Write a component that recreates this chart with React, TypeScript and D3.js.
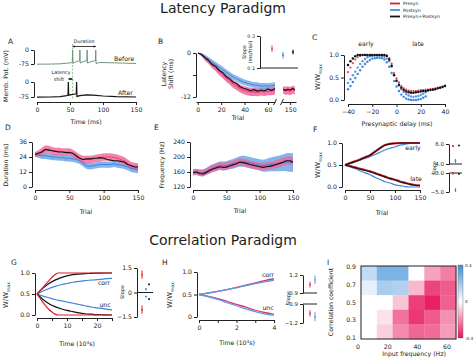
import React, { useEffect, useRef } from 'react';
import * as d3 from 'd3';

const FONT = "'DejaVu Sans', Verdana, sans-serif";
const RED = '#e8316b';
const RED_BAND = '#f2639a';
const BLUE = '#3d86d8';
const BLUE_BAND = '#6fa8e6';
const BLACK = '#141414';
const INK = '#222';

// ---- A: example traces (time ms, mV)
const aBefore: [number, number][] = [
  [0, -76], [20, -75.5], [35, -74], [45, -71], [52, -68], [53.5, -66], [54, 0], [54.5, -72],
  [57, -66], [62, -60], [64.5, -58], [65, 0], [65.5, -70], [70, -62], [75.5, -58], [76, 0],
  [76.5, -70], [82, -62], [88.5, -57], [89, 0], [89.5, -72], [95, -67], [110, -68], [130, -70], [150, -72],
];
const aAfter: [number, number][] = [
  [0, -76], [20, -75], [35, -73], [45, -68], [47, -65], [47.5, 0], [48, -66], [52, -63],
  [58, -60], [59.5, -58], [60, 0], [60.5, -72], [65, -68], [75, -64], [85, -66], [100, -70], [120, -73], [150, -75],
];

// ---- B: latency shift
const bTrial = [0, 3, 6, 9, 12, 15, 18, 21, 24, 27, 30, 33, 36, 39, 42, 45, 48, 51, 54, 57, 60, 63, 66];
const bBlack = [0, -0.4, -1.3, -2.0, -3.1, -3.6, -4.7, -5.3, -6.4, -7.0, -7.9, -8.3, -9.2, -9.6, -9.9, -10.3, -10.0, -10.4, -10.1, -10.3, -9.8, -10.2, -9.7];
const bPink = [0, -0.5, -1.5, -2.3, -3.3, -4.0, -5.0, -5.8, -6.8, -7.5, -8.4, -9.0, -9.7, -10.1, -10.4, -10.6, -10.6, -10.7, -10.5, -10.6, -10.4, -10.4, -10.2];
const bPinkSd = [0.1, 0.4, 0.6, 0.7, 0.8, 0.9, 1.0, 1.0, 1.0, 1.1, 1.1, 1.1, 1.1, 1.1, 1.1, 1.1, 1.1, 1.1, 1.1, 1.1, 1.1, 1.1, 1.1];
const bBlue = [0, -0.3, -1.0, -1.7, -2.5, -3.1, -3.9, -4.5, -5.2, -5.9, -6.5, -7.0, -7.5, -7.9, -8.2, -8.5, -8.7, -8.8, -9.0, -9.0, -9.0, -8.9, -8.8];
const bBlueSd = [0.1, 0.3, 0.5, 0.6, 0.7, 0.7, 0.8, 0.8, 0.8, 0.8, 0.8, 0.8, 0.8, 0.8, 0.8, 0.8, 0.8, 0.8, 0.8, 0.8, 0.8, 0.8, 0.8];
const bTrialLate = [144, 146, 148, 150, 152, 154];
const bBlackLate = [-9.8, -10.2, -9.9, -10.1, -9.7, -10.0];
const bPinkLate = [-10.1, -10.3, -10.2, -10.4, -10.0, -10.2];
const bPinkLateSd = [1.1, 1.1, 1.1, 1.1, 1.1, 1.1];
const bSlope = [0.22, 0.18, 0.2];
const bSlopeErr = [0.02, 0.02, 0.015];

// ---- C: STDP window (delay ms -> W/Wmax)
const cDelay = d3.range(-40, 41, 2);
const cBlack = [0.78, 0.86, 0.92, 0.97, 1, 1, 1, 1, 1, 1, 1, 1, 1, 1, 1, 1, 0.98, 0.9, 0.76, 0.55, 0.43, 0.34, 0.27, 0.22, 0.19, 0.17, 0.16, 0.16, 0.17, 0.18, 0.19, 0.2, 0.2, 0.21, 0.22, 0.23, 0.24, 0.26, 0.27, 0.29, 0.31];
const cRed = [0.62, 0.72, 0.82, 0.9, 0.95, 0.98, 1, 1, 1, 1, 1, 1, 1, 1, 1, 1, 0.99, 0.93, 0.81, 0.6, 0.48, 0.39, 0.31, 0.26, 0.23, 0.21, 0.2, 0.2, 0.2, 0.21, 0.22, 0.22, 0.23, 0.23, 0.24, 0.25, 0.26, 0.27, 0.28, 0.3, 0.32];
const cBlueHi = [0.38, 0.46, 0.55, 0.63, 0.72, 0.8, 0.86, 0.91, 0.95, 0.97, 0.98, 0.99, 0.99, 0.99, 0.98, 0.96, 0.92, 0.86, 0.74, 0.56, 0.42, 0.32, 0.24, 0.18, 0.13, 0.1, 0.08, 0.07, 0.08, 0.09, 0.11, 0.14, 0.17];
const cBlueLo = [0.24, 0.31, 0.4, 0.49, 0.58, 0.66, 0.74, 0.8, 0.85, 0.89, 0.92, 0.93, 0.94, 0.94, 0.93, 0.9, 0.84, 0.74, 0.6, 0.42, 0.3, 0.2, 0.12, 0.07, 0.03, 0.01, 0, 0, 0, 0.01, 0.02, 0.05, 0.08];

// ---- D / E: burst duration and frequency
const deTrial = d3.range(0, 151, 5);
const dBlack = [26, 27, 28, 30, 29.5, 29, 28.5, 28, 28, 27.5, 27.5, 27, 25, 23, 22, 22.5, 22.5, 23, 23, 23.5, 23, 22, 21.5, 21, 21, 20.5, 20, 18, 17, 16, 16];
const dPink = [26, 27, 28.5, 30.5, 30, 29, 28.5, 28.5, 28, 28, 28, 27, 25, 23, 22, 22, 22, 22.5, 23, 23.5, 24, 24, 24, 23.5, 23, 22, 21, 19, 17, 16.5, 16];
const dPinkSd = [2, 2.5, 3, 3, 3, 3, 3, 3, 3, 3, 3, 3, 3, 3, 3, 3, 3, 3, 3, 3, 3, 3, 3, 3, 3, 3, 3, 3, 3, 3, 3];
const dBlue = [26, 25.5, 25, 25, 24.5, 24, 24, 23.5, 23.5, 23, 23, 22.5, 22, 21, 19, 17, 16.5, 17, 17.5, 18, 18, 18, 18, 18.5, 18, 17.5, 17, 16, 15, 14.5, 14];
const dBlueSd = [2, 2, 2.5, 2.5, 2.5, 2.5, 2.5, 2.5, 2.5, 2.5, 2.5, 2.5, 2.5, 2.5, 2.5, 2.5, 2.5, 2.5, 2.5, 2.5, 2.5, 2.5, 2.5, 2.5, 2.5, 2.5, 2.5, 2.5, 3, 3, 3];
const eBlack = [158, 160, 156, 155, 159, 164, 168, 171, 174, 172, 173, 176, 179, 182, 186, 185, 183, 180, 178, 176, 174, 172, 174, 175, 177, 180, 183, 186, 190, 190, 186];
const ePink = [160, 161, 158, 157, 161, 166, 170, 173, 176, 175, 176, 178, 181, 184, 187, 186, 184, 181, 179, 177, 175, 174, 176, 177, 179, 181, 184, 187, 190, 191, 188];
const ePinkSd = [8, 8, 9, 9, 9, 10, 10, 10, 10, 10, 10, 10, 10, 10, 10, 10, 10, 10, 10, 10, 10, 10, 10, 10, 10, 11, 11, 11, 11, 11, 11];
const eBlue = [158, 160, 158, 158, 162, 167, 171, 174, 177, 176, 177, 180, 182, 185, 188, 189, 187, 185, 183, 181, 179, 177, 178, 180, 181, 182, 183, 185, 186, 186, 185];
const eBlueSd = [7, 8, 8, 9, 9, 10, 10, 11, 11, 12, 12, 12, 13, 13, 14, 15, 15, 15, 15, 15, 15, 16, 17, 18, 19, 20, 21, 22, 24, 25, 25];

// ---- F: weight evolution, early / late
const fTrial = d3.range(0, 151, 10);
const fEarlyBlack = [0.5, 0.54, 0.58, 0.62, 0.67, 0.72, 0.8, 0.88, 0.95, 0.98, 0.99, 1, 1, 1, 1, 1];
const fEarlyRed = [0.5, 0.545, 0.585, 0.625, 0.675, 0.725, 0.805, 0.885, 0.952, 0.982, 0.992, 1, 1, 1, 1, 1];
const fEarlyBlue = [0.5, 0.53, 0.57, 0.61, 0.65, 0.69, 0.74, 0.79, 0.84, 0.88, 0.91, 0.95, 0.97, 0.99, 1, 1];
const fLateBlack = [0.5, 0.47, 0.44, 0.41, 0.38, 0.35, 0.31, 0.27, 0.23, 0.19, 0.16, 0.12, 0.09, 0.06, 0.04, 0.03];
const fLateRed = [0.5, 0.475, 0.445, 0.415, 0.385, 0.355, 0.315, 0.275, 0.235, 0.195, 0.165, 0.125, 0.095, 0.065, 0.045, 0.035];
const fLateBlue = [0.5, 0.46, 0.42, 0.37, 0.32, 0.28, 0.22, 0.17, 0.12, 0.09, 0.05, 0.03, 0.01, 0, 0, 0];
const fSlopeEarly = [5.8, 4.3, 5.85];
const fSlopeLate = [-3.05, -4.8, -3.1];
const fSlopeErr = [0.1, 0.2, 0.05];

// ---- G / H: correlation paradigm
const gTimeRed = [0, 1, 2, 3, 4, 5, 6, 7, 10, 15, 20, 25];
const gRedCorr = [0.5, 0.58, 0.66, 0.74, 0.82, 0.9, 0.96, 1, 1, 1, 1, 1];
const gRedUnc = [0.5, 0.4, 0.3, 0.21, 0.13, 0.07, 0.02, 0, 0, 0, 0, 0];
const gTime = [0, 2, 4, 6, 8, 10, 12, 14, 16, 18, 20, 22, 25];
const gBlackCorr = [0.5, 0.64, 0.75, 0.83, 0.89, 0.93, 0.96, 0.975, 0.985, 0.99, 0.995, 1, 1];
const gBlackUnc = [0.5, 0.37, 0.27, 0.2, 0.15, 0.11, 0.08, 0.05, 0.03, 0.02, 0.01, 0.005, 0];
const gBlueCorr = [0.5, 0.57, 0.63, 0.68, 0.72, 0.75, 0.78, 0.8, 0.82, 0.83, 0.84, 0.855, 0.87];
const gBlueUnc = [0.5, 0.45, 0.41, 0.37, 0.34, 0.31, 0.28, 0.25, 0.22, 0.19, 0.17, 0.15, 0.12];
const gSlopeCorr = [1.1, 0.2, 0.5];
const gSlopeUnc = [-1.05, -0.25, -0.4];
const gSlopeErr = [0.25, 0.05, 0.05];

const hTime = [0, 0.5, 1, 1.5, 2, 2.5, 3, 3.5, 4];
const hPinkCorr = [0.5, 0.53, 0.57, 0.61, 0.66, 0.71, 0.76, 0.81, 0.85];
const hBlueCorr = [0.5, 0.535, 0.57, 0.61, 0.65, 0.7, 0.74, 0.78, 0.82];
const hPinkUnc = [0.5, 0.46, 0.41, 0.35, 0.28, 0.22, 0.15, 0.1, 0.06];
const hBlueUnc = [0.5, 0.45, 0.39, 0.32, 0.25, 0.18, 0.12, 0.07, 0.04];
const hSlopeCorr = [1.04, 1.12];
const hSlopeUnc = [-1.05, -1.1];
const hSlopeErr = [0.05, 0.07];

// ---- I: heat map (rows = correlation, cols = input frequency)
const iFreq = [10, 20, 30, 40, 50, 60];
const iCorr = [0.9, 0.7, 0.5, 0.3, 0.1];
const iDelta = [
  [0.13, 0.27, 0.27, 0.0, -0.16, -0.22],
  [0.05, 0.18, 0.16, -0.12, -0.32, -0.28],
  [0.0, 0.0, -0.1, -0.33, -0.38, -0.27],
  [0.0, -0.05, -0.24, -0.34, -0.28, -0.19],
  [0.0, -0.08, -0.2, -0.26, -0.25, -0.17],
];

type Sel = d3.Selection<SVGGElement, unknown, null, undefined>;

export default function App() {
  const ref = useRef<SVGSVGElement>(null);

  useEffect(() => {
    const root = d3.select(ref.current);
    root.selectAll('*').remove();
    const svg = root.append('g') as unknown as Sel;

    const text = (x: number, y: number, s: string, size = 6.2, anchor = 'middle', rot = false, fill = INK) => {
      return svg.append('text')
        .attr('transform', rot ? `translate(${x},${y}) rotate(-90)` : `translate(${x},${y})`)
        .attr('text-anchor', anchor)
        .attr('font-family', FONT)
        .attr('font-size', size)
        .attr('fill', fill)
        .text(s);
    };
    const wLabel = (x: number, y: number) => {
      const t = svg.append('text')
        .attr('transform', `translate(${x},${y}) rotate(-90)`)
        .attr('text-anchor', 'middle').attr('font-family', FONT)
        .attr('font-size', 6.8).attr('fill', INK);
      t.append('tspan').text('W/W');
      t.append('tspan').attr('font-size', 4.6).attr('dy', 1.6).text('max');
    };
    const timeLabel = (x: number, y: number) => {
      const t = svg.append('text').attr('x', x).attr('y', y).attr('text-anchor', 'middle')
        .attr('font-family', FONT).attr('font-size', 6.2).attr('fill', INK);
      t.append('tspan').text('Time (10');
      t.append('tspan').attr('font-size', 4.2).attr('dy', -2.5).text('3');
      t.append('tspan').attr('dy', 2.5).text('s)');
    };
    const style = (g: Sel) => {
      g.selectAll('path').attr('stroke', INK).attr('stroke-width', 1);
      g.selectAll('line').attr('stroke', INK).attr('stroke-width', 1);
      g.selectAll('text').attr('font-family', FONT).attr('font-size', 6.2).attr('fill', INK);
    };
    const xAxis = (scale: d3.ScaleLinear<number, number>, y: number, ticks: number[], fmt?: (d: number) => string) => {
      const a = d3.axisBottom(scale).tickValues(ticks).tickSize(3).tickSizeOuter(0).tickPadding(3);
      if (fmt) a.tickFormat(fmt as any);
      const g = svg.append('g').attr('transform', `translate(0,${y})`).call(a as any) as unknown as Sel;
      style(g);
      return g;
    };
    const yAxis = (scale: d3.ScaleLinear<number, number>, x: number, ticks: number[], fmt?: (d: number) => string, size = 6.2) => {
      const a = d3.axisLeft(scale).tickValues(ticks).tickSize(3).tickSizeOuter(0).tickPadding(2);
      if (fmt) a.tickFormat(fmt as any);
      const g = svg.append('g').attr('transform', `translate(${x},0)`).call(a as any) as unknown as Sel;
      style(g);
      g.selectAll('text').attr('font-size', size);
      return g;
    };
    const line = (xs: number[], ys: number[], x: any, y: any, color: string, w = 1.2, curve: any = d3.curveLinear) => {
      const gen = d3.line<number>().x((_, i) => x(xs[i])).y((d) => y(d)).curve(curve);
      svg.append('path').attr('d', gen(ys)).attr('fill', 'none').attr('stroke', color)
        .attr('stroke-width', w).attr('stroke-linejoin', 'round');
    };
    const band = (xs: number[], m: number[], sd: number[], x: any, y: any, color: string, op = 0.8) => {
      const gen = d3.area<number>().x((_, i) => x(xs[i]))
        .y0((d, i) => y(d - sd[i])).y1((d, i) => y(d + sd[i]));
      svg.append('path').attr('d', gen(m)).attr('fill', color).attr('opacity', op);
    };
    const dots = (xs: number[], ys: number[], x: any, y: any, color: string, r = 1.2) => {
      ys.forEach((v, i) => {
        svg.append('circle').attr('cx', x(xs[i])).attr('cy', y(v)).attr('r', r).attr('fill', color);
      });
    };
    const errDots = (xs: number[], vals: number[], errs: number[], colors: string[], y: any) => {
      vals.forEach((v, i) => {
        svg.append('line').attr('x1', xs[i]).attr('x2', xs[i]).attr('y1', y(v - errs[i])).attr('y2', y(v + errs[i]))
          .attr('stroke', colors[i]).attr('stroke-width', 1);
        svg.append('circle').attr('cx', xs[i]).attr('cy', y(v)).attr('r', 0.9).attr('fill', colors[i]);
      });
    };
    const hline = (x1: number, x2: number, y: number) => {
      svg.append('line').attr('x1', x1).attr('x2', x2).attr('y1', y).attr('y2', y).attr('stroke', INK).attr('stroke-width', 1);
    };

    // ---------------- titles, legend
    text(223, 13, 'Latency Paradigm', 14);
    text(223, 245, 'Correlation Paradigm', 14);
    const legend = [['Presyn', '#e0202a'], ['Postsyn', '#4a90d9'], ['Presyn+Postsyn', BLACK]];
    legend.forEach(([name, c], i) => {
      const y = 3.5 + i * 6.5;
      svg.append('line').attr('x1', 390).attr('x2', 400).attr('y1', y).attr('y2', y).attr('stroke', c).attr('stroke-width', 1.8);
      text(403, y + 1.7, name, 4.6, 'start');
    });

    // panel letters
    [['A', 8, 44], ['B', 158, 44], ['C', 312, 40], ['D', 5, 130], ['E', 154, 130], ['F', 313, 132],
      ['G', 11, 265], ['H', 162, 265], ['I', 327, 265]].forEach(([l, x, y]) => text(x as number, y as number, l as string, 7.5, 'start'));

    // ---------------- A
    {
      const x = d3.scaleLinear([0, 150], [37, 136]);
      const yB = d3.scaleLinear([-75, 0], [64, 50]);
      const yA = d3.scaleLinear([-75, 0], [97, 82]);
      svg.append('line').attr('x1', x(54)).attr('x2', x(54)).attr('y1', 44).attr('y2', 99)
        .attr('stroke', '#5cc06a').attr('stroke-width', 0.8).attr('stroke-dasharray', '2,1.5');
      const lg = d3.line<[number, number]>().x((d) => x(d[0]));
      svg.append('path').attr('d', lg.y((d) => yB(d[1]))(aBefore)).attr('fill', 'none').attr('stroke', '#6f9580').attr('stroke-width', 1);
      svg.append('path').attr('d', lg.y((d) => yA(d[1]))(aAfter)).attr('fill', 'none').attr('stroke', BLACK).attr('stroke-width', 1.2);
      yAxis(yB, 34, [-75, 0], (d) => `${d}`);
      yAxis(yA, 34, [-75, 0], (d) => `${d}`);
      xAxis(x, 102, [0, 50, 100, 150]);
      text(86, 124, 'Time (ms)');
      text(8, 76, 'Memb. Pot. (mV)', 6.2, 'middle', true);
      text(114, 61, 'Before', 6.2, 'start');
      text(118, 95, 'After', 6.2, 'start');
      const arrow = (x1: number, x2: number, y: number) => {
        svg.append('line').attr('x1', x1).attr('x2', x2).attr('y1', y).attr('y2', y).attr('stroke', BLACK).attr('stroke-width', 0.8);
        svg.append('path').attr('d', `M${x1},${y}l2,-1.3v2.6z M${x2},${y}l-2,-1.3v2.6z`).attr('fill', BLACK);
      };
      arrow(x(54), x(89), 46.5);
      text(x(71.5), 42.5, 'Duration', 4.8);
      arrow(x(47.5), x(54), 79);
      text(61, 74, 'Latency', 4.8);
      text(59, 81, 'shift', 4.8);
    }

    // ---------------- B
    {
      const x1 = d3.scaleLinear([0, 66], [198, 275]);
      const x2 = d3.scaleLinear([143, 155], [282, 296]);
      const y = d3.scaleLinear([-12, 0], [97, 53]);
      band(bTrial, bPink, bPinkSd, x1, y, RED_BAND, 0.85);
      band(bTrial, bBlue, bBlueSd, x1, y, BLUE_BAND, 0.8);
      line(bTrial, bBlue, x1, y, BLUE, 1);
      line(bTrial, bPink, x1, y, RED, 1);
      line(bTrial, bBlack, x1, y, BLACK, 1.2);
      band(bTrialLate, bPinkLate, bPinkLateSd, x2, y, RED_BAND, 0.85);
      line(bTrialLate, bPinkLate, x2, y, RED, 1);
      line(bTrialLate, bBlackLate, x2, y, BLACK, 1.2);
      yAxis(y, 196, [-12, -6, 0], (d) => (d === -6 ? '' : `${d}`));
      const ax1 = d3.scaleLinear([-1.5, 66], [196, 275]);
      xAxis(ax1, 102, [0, 20, 40, 60]);
      xAxis(x2, 102, [150]);
      [275, 282].forEach((bx) => {
        svg.append('line').attr('x1', bx - 1.5).attr('x2', bx + 1.5).attr('y1', 105).attr('y2', 99)
          .attr('stroke', INK).attr('stroke-width', 1);
      });
      text(238, 120, 'Trial');
      text(166, 74, 'Latency', 6.2, 'middle', true);
      text(173, 74, 'Shift (ms)', 6.2, 'middle', true);
      const ys = d3.scaleLinear([0.1, 0.3], [68, 36]);
      yAxis(ys, 260, [0.1, 0.3], (d) => d3.format('.1f')(d), 4.8);
      hline(260, 298, 68);
      errDots([272, 283, 293], bSlope, bSlopeErr, [RED, BLUE, BLACK], ys);
      text(246, 52, 'Slope', 5, 'middle', true);
      text(251.5, 52, '(ms/trial)', 5, 'middle', true);
    }

    // ---------------- C
    {
      const x = d3.scaleLinear([-40, 40], [348, 445]);
      const y = d3.scaleLinear([0, 1], [100, 55]);
      dots(cDelay.slice(0, cBlueLo.length), cBlueLo, x, y, '#3f86dc', 1.2);
      dots(cDelay.slice(0, cBlueHi.length), cBlueHi, x, y, '#5a9ae2', 1.2);
      dots(cDelay, cRed, x, y, '#e33f5a', 1.1);
      dots(cDelay, cBlack, x, y, BLACK, 1.25);
      yAxis(y, 344, [0, 0.5, 1], (d) => d3.format('.1f')(d));
      xAxis(x, 104, [-40, -20, 0, 20, 40]);
      text(397, 126, 'Presynaptic delay (ms)');
      wLabel(320, 77);
      text(366, 46, 'early');
      text(418, 46, 'late');
    }

    // ---------------- D
    {
      const x = d3.scaleLinear([0, 150], [35, 138]);
      const y = d3.scaleLinear([0, 36], [187, 142]);
      band(deTrial, dBlue, dBlueSd, x, y, BLUE_BAND, 0.85);
      band(deTrial, dPink, dPinkSd, x, y, RED_BAND, 0.8);
      line(deTrial, dBlue, x, y, BLUE, 1);
      line(deTrial, dPink, x, y, RED, 0.8);
      line(deTrial, dBlack, x, y, BLACK, 1.2);
      yAxis(y, 32, [0, 12, 24, 36]);
      xAxis(x, 190, [0, 50, 100, 150]);
      text(86, 214, 'Trial');
      text(8, 165, 'Duration (ms)', 6.2, 'middle', true);
    }

    // ---------------- E
    {
      const x = d3.scaleLinear([0, 150], [193, 293]);
      const y = d3.scaleLinear([120, 240], [187, 142]);
      band(deTrial, eBlue, eBlueSd, x, y, BLUE_BAND, 0.85);
      band(deTrial, ePink, ePinkSd, x, y, RED_BAND, 0.75);
      line(deTrial, eBlue, x, y, BLUE, 1);
      line(deTrial, ePink, x, y, RED, 0.8);
      line(deTrial, eBlack, x, y, BLACK, 1.2);
      yAxis(y, 190, [120, 160, 200, 240]);
      xAxis(x, 190, [0, 50, 100, 150]);
      text(240, 213, 'Trial');
      text(164, 165, 'Frequency (Hz)', 6.2, 'middle', true);
    }

    // ---------------- F
    {
      const x = d3.scaleLinear([0, 150], [345, 420]);
      const y = d3.scaleLinear([0, 1], [187, 143]);
      line(fTrial, fEarlyBlue, x, y, BLUE, 1.2, d3.curveMonotoneX);
      line(fTrial, fLateBlue, x, y, BLUE, 1.2, d3.curveMonotoneX);
      line(fTrial, fEarlyRed, x, y, '#e0202a', 2.2, d3.curveMonotoneX);
      line(fTrial, fLateRed, x, y, '#e0202a', 2.2, d3.curveMonotoneX);
      line(fTrial, fEarlyBlack, x, y, BLACK, 1.1, d3.curveMonotoneX);
      line(fTrial, fLateBlack, x, y, BLACK, 1.1, d3.curveMonotoneX);
      yAxis(y, 342, [0, 0.5, 1], (d) => d3.format('.1f')(d));
      xAxis(x, 190, [0, 50, 100, 150]);
      text(382, 215, 'Trial');
      wLabel(320, 165);
      text(413, 150, 'early', 6.2);
      text(416, 181, 'late', 6.2);
      const yt = d3.scaleLinear([4, 6], [164, 144]);
      const yb = d3.scaleLinear([-5, -3], [192, 173]);
      yAxis(yt, 449, [4, 6], undefined, 5.5);
      yAxis(yb, 449, [-5, -3], undefined, 5.5);
      hline(449, 462, 164);
      hline(449, 462, 173);
      errDots([453, 455.5, 459], fSlopeEarly, fSlopeErr, ['#e0202a', BLUE, BLACK], yt);
      errDots([453, 455.5, 459], fSlopeLate, fSlopeErr, ['#e0202a', BLUE, BLACK], yb);
      text(436, 168, 'Slope', 5, 'middle', true);
    }

    // ---------------- G
    {
      const x = d3.scaleLinear([0, 25], [37, 112]);
      const y = d3.scaleLinear([0, 1], [315, 273]);
      line(gTime, gBlueCorr, x, y, BLUE, 1.2, d3.curveMonotoneX);
      line(gTime, gBlueUnc, x, y, BLUE, 1.2, d3.curveMonotoneX);
      line(gTime, gBlackCorr, x, y, BLACK, 1.2, d3.curveMonotoneX);
      line(gTime, gBlackUnc, x, y, BLACK, 1.2, d3.curveMonotoneX);
      line(gTimeRed, gRedCorr, x, y, '#e0202a', 1.2, d3.curveMonotoneX);
      line(gTimeRed, gRedUnc, x, y, '#e0202a', 1.2, d3.curveMonotoneX);
      yAxis(y, 35, [0, 0.5, 1], (d) => d3.format('.1f')(d));
      xAxis(x, 318, [0, 5, 10, 15, 20, 25], (d) => (d % 10 === 0 ? `${d}` : ''));
      timeLabel(77, 346);
      wLabel(8, 295);
      text(104, 285, 'corr', 6.2);
      text(105, 307, 'unc', 6.2);
      const ys = d3.scaleLinear([-1.5, 1.5], [317, 268]);
      yAxis(ys, 137, [-1.5, 0, 1.5], (d) => (d === 0 ? '0' : d3.format('.1f')(d)));
      hline(137, 153, ys(0));
      errDots([142, 146, 149], gSlopeCorr, gSlopeErr, ['#e0202a', BLUE, BLACK], ys);
      errDots([142, 146, 149], gSlopeUnc, gSlopeErr, ['#e0202a', BLUE, BLACK], ys);
      text(124, 292, 'Slope', 5, 'middle', true);
    }

    // ---------------- H
    {
      const x = d3.scaleLinear([0, 4], [199, 274]);
      const y = d3.scaleLinear([0, 1], [317, 272]);
      line(hTime, hPinkCorr, x, y, RED, 1.3, d3.curveMonotoneX);
      line(hTime, hPinkUnc, x, y, RED, 1.3, d3.curveMonotoneX);
      line(hTime, hBlueCorr, x, y, '#5b9be0', 1.3, d3.curveMonotoneX);
      line(hTime, hBlueUnc, x, y, '#5b9be0', 1.3, d3.curveMonotoneX);
      yAxis(y, 197, [0, 0.5, 1], (d) => (d === 0 ? '0' : d3.format('.1f')(d)));
      xAxis(x, 320, [0, 1, 2, 3, 4], (d) => (d % 2 === 0 ? `${d}` : ''));
      timeLabel(237, 345);
      wLabel(172, 295);
      text(268, 277, 'corr', 6.2);
      text(268, 310, 'unc', 6.2);
      const yt = d3.scaleLinear([0.9, 1.2], [293, 275]);
      const yb = d3.scaleLinear([-1.2, -0.9], [323, 304]);
      yAxis(yt, 303, [0.9, 1.2], (d) => d3.format('.1f')(d), 5.5);
      yAxis(yb, 303, [-1.2, -0.9], (d) => d3.format('.1f')(d), 5.5);
      hline(303, 317, 293);
      hline(303, 317, 304);
      errDots([310, 315], hSlopeCorr, hSlopeErr, [RED, '#5b9be0'], yt);
      errDots([310, 315], hSlopeUnc, hSlopeErr, [RED, '#5b9be0'], yb);
      text(290, 298, 'Slope', 5, 'middle', true);
    }

    // ---------------- I
    {
      const xb = d3.scaleBand<number>().domain(iFreq).range([361, 456]);
      const yb = d3.scaleBand<number>().domain(iCorr).range([266, 339]);
      const color = d3.scaleLinear<string>().domain([-0.4, 0, 0.4]).range(['#e8155a', '#ffffff', '#3d8fd8']);
      iDelta.forEach((row, r) => row.forEach((v, c) => {
        svg.append('rect').attr('x', xb(iFreq[c])!).attr('y', yb(iCorr[r])!)
          .attr('width', xb.bandwidth() + 0.3).attr('height', yb.bandwidth() + 0.3).attr('fill', color(v));
      }));
      svg.append('rect').attr('x', 361).attr('y', 266).attr('width', 95).attr('height', 73)
        .attr('fill', 'none').attr('stroke', INK).attr('stroke-width', 1);
      const yl = d3.scaleLinear([0.1, 0.9], [338, 267]);
      [0.1, 0.3, 0.5, 0.7, 0.9].forEach((v) => text(356, yl(v) + 2.2, d3.format('.1f')(v), 6.2, 'end'));
      const xl = d3.scaleLinear([0, 60], [358, 447]);
      [0, 20, 40, 60].forEach((v) => text(xl(v), 349, `${v}`, 6.2));
      text(414, 356, 'Input frequency (Hz)');
      text(333, 302, 'Correlation coefficient', 6.2, 'middle', true);
      const defs = root.append('defs');
      const grad = defs.append('linearGradient').attr('id', 'cbar').attr('x1', 0).attr('x2', 0).attr('y1', 0).attr('y2', 1);
      grad.append('stop').attr('offset', '0%').attr('stop-color', color(0.4));
      grad.append('stop').attr('offset', '50%').attr('stop-color', color(0));
      grad.append('stop').attr('offset', '100%').attr('stop-color', color(-0.4));
      svg.append('rect').attr('x', 458).attr('y', 265).attr('width', 5).attr('height', 73)
        .attr('fill', 'url(#cbar)').attr('stroke', '#666').attr('stroke-width', 0.4);
      const yc = d3.scaleLinear([-0.4, 0.4], [338, 265]);
      [[0.4, '0.4'], [0, '0'], [-0.4, '-0.4']].forEach(([v, s]) => text(465, yc(v as number) + 1.5, s as string, 4.2, 'start'));
    }
  }, []);

  return (
    <svg ref={ref} width={474} height={361}
      style={{ position: 'absolute', left: 0, top: 0, background: '#fff' }} />
  );
}
